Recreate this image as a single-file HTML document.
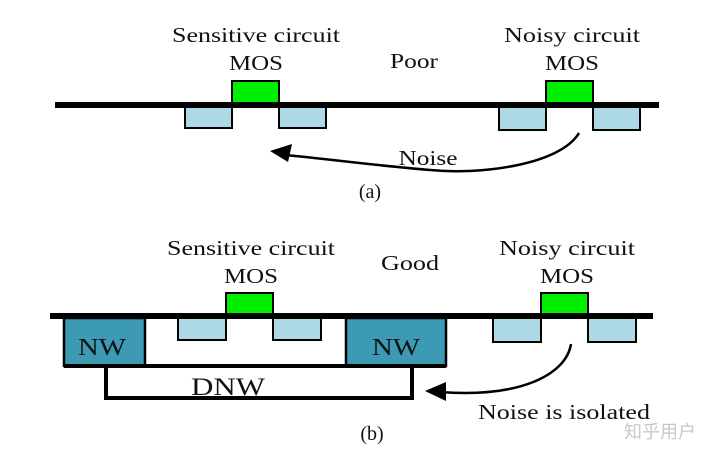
<!DOCTYPE html>
<html><head><meta charset="utf-8"><style>
html,body{margin:0;padding:0;background:#fff;width:720px;height:454px;overflow:hidden}
svg{display:block}
text{font-family:"Liberation Serif",serif;fill:#111}
</style></head><body>
<svg width="720" height="454" viewBox="0 0 720 454" xmlns="http://www.w3.org/2000/svg">
<!-- (a) -->
<text x="256" y="42" font-size="21" text-anchor="middle" textLength="168" lengthAdjust="spacingAndGlyphs">Sensitive circuit</text>
<text x="256" y="70" font-size="21" text-anchor="middle" textLength="54" lengthAdjust="spacingAndGlyphs">MOS</text>
<text x="414" y="68" font-size="21" text-anchor="middle" textLength="48" lengthAdjust="spacingAndGlyphs">Poor</text>
<text x="572" y="42" font-size="21" text-anchor="middle" textLength="136" lengthAdjust="spacingAndGlyphs">Noisy circuit</text>
<text x="572" y="70" font-size="21" text-anchor="middle" textLength="54" lengthAdjust="spacingAndGlyphs">MOS</text>

<rect x="232" y="81" width="47" height="22" fill="#00ee00" stroke="#000" stroke-width="2"/>
<rect x="546" y="81" width="47" height="22" fill="#00ee00" stroke="#000" stroke-width="2"/>
<rect x="185" y="107" width="47" height="21" fill="#add8e6" stroke="#000" stroke-width="2"/>
<rect x="279" y="107" width="47" height="21" fill="#add8e6" stroke="#000" stroke-width="2"/>
<rect x="499" y="107" width="47" height="23" fill="#add8e6" stroke="#000" stroke-width="2"/>
<rect x="593" y="107" width="47" height="23" fill="#add8e6" stroke="#000" stroke-width="2"/>
<rect x="55" y="102" width="604" height="6" fill="#000"/>

<path d="M579 133 C560 165 480 175 430 170 C370 165 320 158 285 155" fill="none" stroke="#000" stroke-width="2.5"/>
<polygon points="270,151 292,144 288,162" fill="#000"/>
<text x="428" y="165" font-size="21" text-anchor="middle" textLength="59" lengthAdjust="spacingAndGlyphs">Noise</text>
<text x="370" y="198" font-size="20" text-anchor="middle">(a)</text>

<!-- (b) -->
<text x="251" y="255" font-size="21" text-anchor="middle" textLength="168" lengthAdjust="spacingAndGlyphs">Sensitive circuit</text>
<text x="251" y="283" font-size="21" text-anchor="middle" textLength="54" lengthAdjust="spacingAndGlyphs">MOS</text>
<text x="410" y="270" font-size="21" text-anchor="middle" textLength="58" lengthAdjust="spacingAndGlyphs">Good</text>
<text x="567" y="255" font-size="21" text-anchor="middle" textLength="136" lengthAdjust="spacingAndGlyphs">Noisy circuit</text>
<text x="567" y="283" font-size="21" text-anchor="middle" textLength="54" lengthAdjust="spacingAndGlyphs">MOS</text>

<rect x="226" y="293" width="47" height="21" fill="#00ee00" stroke="#000" stroke-width="2"/>
<rect x="541" y="293" width="47" height="21" fill="#00ee00" stroke="#000" stroke-width="2"/>
<rect x="64" y="318" width="81" height="48" fill="#3d9ab4" stroke="#000" stroke-width="2.5"/>
<rect x="346" y="318" width="100" height="48" fill="#3d9ab4" stroke="#000" stroke-width="2.5"/>
<rect x="106" y="366" width="306" height="32" fill="#fff" stroke="#000" stroke-width="4"/>
<line x1="64" y1="366" x2="446" y2="366" stroke="#000" stroke-width="4"/>
<rect x="178" y="318" width="48" height="22" fill="#add8e6" stroke="#000" stroke-width="2"/>
<rect x="273" y="318" width="48" height="22" fill="#add8e6" stroke="#000" stroke-width="2"/>
<rect x="493" y="318" width="48" height="24" fill="#add8e6" stroke="#000" stroke-width="2"/>
<rect x="588" y="318" width="48" height="24" fill="#add8e6" stroke="#000" stroke-width="2"/>
<rect x="50" y="313" width="603" height="6" fill="#000"/>

<text x="102" y="355" font-size="24" text-anchor="middle" textLength="48" lengthAdjust="spacingAndGlyphs">NW</text>
<text x="396" y="355" font-size="24" text-anchor="middle" textLength="48" lengthAdjust="spacingAndGlyphs">NW</text>
<text x="228" y="395" font-size="25" text-anchor="middle" textLength="74" lengthAdjust="spacingAndGlyphs">DNW</text>

<path d="M571 344 C566 375 520 398 440 392" fill="none" stroke="#000" stroke-width="2.5"/>
<polygon points="425,391 446,382 446,401" fill="#000"/>
<text x="564" y="419" font-size="21" text-anchor="middle" textLength="172" lengthAdjust="spacingAndGlyphs">Noise is isolated</text>
<text x="372" y="440" font-size="20" text-anchor="middle">(b)</text>
<text x="660" y="438" font-size="18" text-anchor="middle" style="font-family:'Noto Sans CJK SC',sans-serif;fill:#c8c8c8">知乎用户</text>
</svg>
</body></html>
